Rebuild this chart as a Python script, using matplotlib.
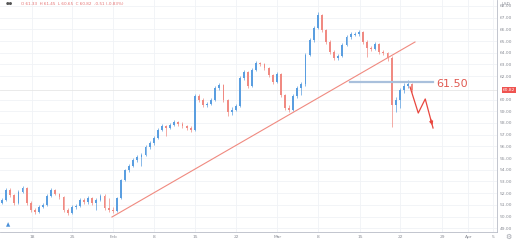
import numpy as np
import matplotlib
matplotlib.use("Agg")
import matplotlib.pyplot as plt
from matplotlib.transforms import blended_transform_factory

# 12h candles, WTI-style price (index 0 = about Jan 16)
opens = [51.20, 51.41, 52.27, 51.84, 51.16, 52.10, 52.44, 51.16, 50.56, 50.39,
         50.82, 50.99, 51.76, 52.27, 51.93, 51.67, 50.56, 50.30, 50.82, 50.90,
         51.41, 51.24, 51.59, 51.16, 51.41, 51.76, 50.73, 50.56, 50.47, 51.59,
         53.12, 53.98, 54.32, 54.83, 55.09, 55.26, 55.94, 56.29, 56.71, 57.40,
         57.74, 57.57, 57.82, 58.08, 57.91, 57.74, 57.57, 57.40, 60.30, 59.96,
         59.53, 59.62, 59.96, 60.99, 61.24, 59.96, 58.94, 59.11, 59.45, 61.84,
         62.35, 61.16, 62.53, 63.12, 63.04, 62.70, 62.10, 61.50, 62.18, 60.39,
         59.28, 59.11, 60.30, 60.99, 61.33, 63.81, 65.09, 66.12, 67.23, 65.94,
         64.92, 64.06, 63.55, 63.72, 64.66, 65.35, 65.50, 65.60, 65.77, 64.92,
         64.41, 64.32, 64.75, 64.06, 63.98, 63.55, 59.53, 59.96, 60.82, 61.16,
         61.33]
closes = [51.41, 52.27, 51.84, 51.16, 52.10, 52.44, 51.16, 50.56, 50.39, 50.82,
          50.99, 51.76, 52.27, 51.93, 51.67, 50.56, 50.30, 50.82, 50.90, 51.41,
          51.24, 51.59, 51.16, 51.41, 51.76, 50.73, 50.56, 50.47, 51.59, 53.12,
          53.98, 54.32, 54.83, 55.09, 55.26, 55.94, 56.29, 56.71, 57.40, 57.74,
          57.57, 57.82, 58.08, 57.91, 57.74, 57.57, 57.40, 60.30, 59.96, 59.53,
          59.62, 59.96, 60.99, 61.24, 59.96, 58.94, 59.11, 59.45, 61.84, 62.35,
          61.16, 62.53, 63.12, 63.04, 62.70, 62.10, 61.50, 62.18, 60.39, 59.28,
          59.11, 60.30, 60.99, 61.33, 63.81, 65.09, 66.12, 67.23, 65.94, 64.92,
          64.06, 63.55, 63.72, 64.66, 65.35, 65.60, 65.60, 65.77, 64.92, 64.41,
          64.32, 64.75, 64.06, 63.98, 63.55, 59.53, 59.96, 60.82, 61.16, 61.33,
          60.82]
highs = [51.60, 52.45, 52.40, 51.95, 52.25, 52.60, 52.50, 51.30, 50.75, 50.95,
         51.15, 51.90, 52.45, 52.35, 52.05, 51.75, 50.70, 50.95, 51.10, 51.55,
         51.60, 51.75, 51.70, 51.55, 51.95, 51.90, 51.60, 50.80, 51.70, 53.25,
         54.10, 54.50, 55.00, 55.25, 55.40, 56.10, 56.45, 56.85, 57.55, 57.90,
         57.85, 58.00, 58.25, 58.20, 58.05, 57.85, 57.70, 60.50, 60.45, 60.10,
         59.80, 60.10, 61.15, 61.45, 61.30, 60.05, 59.35, 59.65, 62.00, 62.55,
         62.45, 62.70, 63.30, 63.25, 63.15, 62.80, 62.20, 62.35, 62.25, 60.50,
         59.50, 60.45, 61.15, 61.50, 63.95, 65.25, 66.30, 67.50, 67.35, 66.05,
         65.05, 64.20, 63.90, 64.80, 65.50, 65.75, 65.80, 65.95, 65.85, 65.05,
         64.55, 64.90, 64.85, 64.20, 64.10, 63.70, 60.20, 61.00, 61.40, 61.65,
         61.45]
lows = [51.05, 51.30, 51.70, 51.00, 51.05, 52.00, 51.00, 50.40, 50.20, 50.30,
        50.70, 50.90, 51.65, 51.80, 51.50, 50.40, 50.10, 50.20, 50.65, 50.80,
        51.05, 51.10, 50.95, 50.60, 51.30, 50.55, 50.40, 50.30, 50.40, 51.50,
        53.00, 53.85, 54.20, 54.70, 54.30, 55.15, 55.80, 56.15, 56.60, 57.30,
        56.90, 57.45, 57.70, 57.75, 57.60, 57.40, 57.20, 57.30, 59.80, 59.35,
        59.40, 59.50, 59.85, 60.85, 59.80, 58.60, 58.70, 59.00, 59.35, 61.70,
        61.00, 61.05, 62.40, 62.85, 62.55, 61.95, 61.30, 61.40, 60.20, 59.10,
        58.90, 59.00, 60.15, 60.40, 61.20, 63.70, 64.95, 66.00, 65.80, 64.75,
        63.90, 63.35, 63.40, 63.60, 64.55, 65.20, 65.40, 65.45, 64.75, 63.60,
        64.15, 64.20, 63.90, 63.80, 63.30, 57.65, 58.90, 59.30, 60.60, 61.00,
        60.65]

date_ticks = [7.3, 17.1, 27.1, 37.1, 47.1, 57.1, 67.1, 77.1, 87.3, 97.1, 107.3, 113.7, 119.8]
date_labels = ["18", "25", "Feb", "8", "15", "22", "Mar", "8", "15", "22", "29", "Apr", "5"]
price_ticks = [49.0, 50.0, 51.0, 52.0, 53.0, 54.0, 55.0, 56.0, 57.0, 58.0,
               59.0, 60.0, 62.0, 63.0, 64.0, 65.0, 66.0, 67.0, 68.0]

level = 61.50
trend_x = [26.8, 100.7]
trend_y = [49.96, 64.92]
level_x = [84.9, 105.1]
path_x = [99.5, 101.5, 103.2, 105.1]
path_y = [61.07, 58.85, 60.05, 57.57]

UP = "#5a9ee0"
DOWN = "#f08a82"
GRID = "#f0f2f6"
AXIS_TXT = "#8a8d96"

fig = plt.figure(figsize=(5.16, 2.42), dpi=100)
ax = fig.add_axes([0, 10 / 242, 497 / 516, 232 / 242])

ax.set_xlim(-0.5, 120.7)
ax.set_ylim(48.68, 68.51)

idx = np.arange(len(closes))
o = np.array(opens)
c = np.array(closes)
col = [UP if cc >= oo else DOWN for oo, cc in zip(o, c)]
ax.vlines(idx, lows, highs, colors=col, linewidth=0.5, zorder=3)
body_h = np.maximum(np.abs(c - o), 0.05)
ax.bar(idx, body_h, bottom=np.minimum(o, c), width=0.45, color=col,
       linewidth=0, zorder=4)

# grid
for xt in date_ticks:
    ax.axvline(xt, color=GRID, linewidth=0.6, zorder=0)
for yt in price_ticks:
    ax.axhline(yt, color=GRID, linewidth=0.6, zorder=0)

# last price line
ax.axhline(closes[-1], color="#e6e6e6", linewidth=0.6, zorder=1)

# trendline, level, projected path
ax.plot(trend_x, trend_y, color="#f08a80", linewidth=0.8, zorder=5)
ax.plot(level_x, [level, level], color="#a9c0dc", linewidth=1.6, zorder=5)
ax.text(106.0, level - 0.2, "61.50", color="#e05a52", fontsize=8,
        ha="left", va="center", zorder=6)
ax.plot(path_x, path_y, color="#e8473f", linewidth=0.9, zorder=6)
ax.annotate("", xy=(path_x[-1], path_y[-1]),
            xytext=(path_x[-2] + (path_x[-1] - path_x[-2]) * 0.6,
                    path_y[-2] + (path_y[-1] - path_y[-2]) * 0.6),
            arrowprops=dict(arrowstyle="-|>", color="#e8473f", lw=0.9,
                            mutation_scale=5), zorder=6)

# axes styling
ax.yaxis.tick_right()
ax.set_yticks(price_ticks)
ax.set_yticklabels([f"{v:.2f}" for v in price_ticks])
ax.set_xticks(date_ticks)
ax.set_xticklabels(date_labels)
ax.tick_params(axis="both", labelsize=3.2, colors=AXIS_TXT, length=0, pad=2)
for s in ["top", "left"]:
    ax.spines[s].set_visible(False)
for s in ["right", "bottom"]:
    ax.spines[s].set_color("#b8bcc6")
    ax.spines[s].set_linewidth(0.6)

# current price tag
tr = blended_transform_factory(ax.transAxes, ax.transData)
ax.text(1.012, closes[-1], f"{closes[-1]:.2f}", transform=tr, fontsize=3.2,
        color="white", ha="left", va="center", clip_on=False, zorder=7,
        bbox=dict(boxstyle="square,pad=0.3", facecolor="#ef5350",
                  edgecolor="none"))

# legend line at top-left
fig.text(0.012, 0.982, "\u25cf\u25cf", fontsize=3, color="#555555", va="center")
fig.text(0.04, 0.982,
         f"O {opens[-1]:.2f}  H {highs[-1]:.2f}  L {lows[-1]:.2f}  C {closes[-1]:.2f}  "
         f"-0.51 (-0.83%)",
         fontsize=3, color="#e57373", va="center")
fig.text(0.972, 0.985, "USD", fontsize=3, color=AXIS_TXT, va="center")
fig.text(0.012, 0.07, "\u25b2", fontsize=4, color="#4a90d9", va="center")
fig.text(0.985, 0.022, "\u2699", fontsize=5, color="#9a9da6", ha="center",
         va="center")

fig.savefig("out.png", dpi=100, facecolor="white")
